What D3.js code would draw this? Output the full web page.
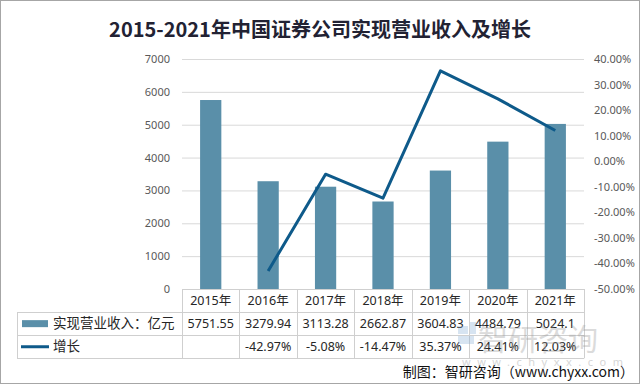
<!DOCTYPE html>
<html>
<head>
<meta charset="utf-8">
<script src="https://cdn.jsdelivr.net/npm/d3@7"></script>
<style>
  body { margin: 0; background: #fff; }
  svg { display: block; }
  text { font-family: "Noto Sans", "Noto Sans CJK SC", sans-serif; }
</style>
</head>
<body>
<div id="chart"></div>
<script>
// data
const years = ["2015年", "2016年", "2017年", "2018年", "2019年", "2020年", "2021年"];
const revenue = [5751.55, 3279.94, 3113.28, 2662.87, 3604.83, 4484.79, 5024.1];
const growth = [null, -42.97, -5.08, -14.47, 35.37, 24.41, 12.03];
const leftTicks = [0, 1000, 2000, 3000, 4000, 5000, 6000, 7000];
const rightTicks = [40, 30, 20, 10, 0, -10, -20, -30, -40, -50];

const W = 640, H = 384;
const plot = { left: 182, right: 584, top: 59, bottom: 289 };
const barColor = "#5a8fa9";
const lineColor = "#0e5a8a";
const gridColor = "#d9d9d9";
const tableColor = "#cfcfcf";

const svg = d3.select("#chart").append("svg")
  .attr("width", W).attr("height", H);

svg.append("rect")
  .attr("x", 0.5).attr("y", 0.5).attr("width", W - 1).attr("height", H - 1)
  .attr("fill", "#fff").attr("stroke", "#a6a6a6");

// title
svg.append("text")
  .attr("x", 320).attr("y", 37)
  .attr("text-anchor", "middle")
  .attr("font-size", 20).attr("font-weight", "bold")
  .attr("fill", "#222233")
  .style("font-family", "'Noto Sans CJK SC', sans-serif")
  .text("2015-2021年中国证券公司实现营业收入及增长");

const x = d3.scaleBand().domain(years).range([plot.left, plot.right]).paddingInner(0).paddingOuter(0);
const y = d3.scaleLinear().domain([0, 7000]).range([plot.bottom, plot.top]);
const y2 = d3.scaleLinear().domain([-50, 40]).range([plot.bottom, plot.top]);

// grid
svg.append("g").selectAll("line")
  .data(leftTicks.filter(d => d > 0))
  .join("line")
  .attr("x1", plot.left).attr("x2", plot.right)
  .attr("y1", d => y(d) + 0.5).attr("y2", d => y(d) + 0.5)
  .attr("stroke", gridColor);

// left axis
const leftAxis = svg.append("g")
  .attr("transform", `translate(${plot.left},0)`)
  .call(d3.axisLeft(y).tickValues(leftTicks).tickSize(0).tickPadding(12).tickFormat(d3.format("d")));
leftAxis.select(".domain").remove();
leftAxis.selectAll("text").attr("font-size", 11).attr("fill", "#595959")
  .style("font-family", "'Noto Sans', sans-serif");

// right axis
const rightAxis = svg.append("g")
  .attr("transform", `translate(${plot.right},0)`)
  .call(d3.axisRight(y2).tickValues(rightTicks).tickSize(0).tickPadding(10)
    .tickFormat(d => d.toFixed(2) + "%"));
rightAxis.select(".domain").remove();
rightAxis.selectAll("text").attr("font-size", 11).attr("fill", "#595959")
  .style("font-family", "'Noto Sans', sans-serif");

// bars
const bw = x.bandwidth() * 0.37;
svg.append("g").selectAll("rect")
  .data(revenue)
  .join("rect")
  .attr("x", (d, i) => x(years[i]) + (x.bandwidth() - bw) / 2)
  .attr("width", bw)
  .attr("y", d => y(d))
  .attr("height", d => y(0) - y(d))
  .attr("fill", barColor);

// growth line
const pts = growth.map((g, i) => ({ year: years[i], g })).filter(d => d.g !== null);
svg.append("path")
  .datum(pts)
  .attr("fill", "none")
  .attr("stroke", lineColor)
  .attr("stroke-width", 3)
  .attr("stroke-linejoin", "round")
  .attr("d", d3.line()
    .x(d => x(d.year) + x.bandwidth() / 2)
    .y(d => y2(d.g)));

// data table
const rowTop = 289, rowH = 23.1;
const tableLeft = 17;
const t = svg.append("g");
// horizontal lines
t.append("line").attr("x1", plot.left).attr("x2", plot.right)
  .attr("y1", rowTop + 0.5).attr("y2", rowTop + 0.5).attr("stroke", tableColor);
[1, 2, 3].forEach(r => {
  t.append("line").attr("x1", tableLeft).attr("x2", plot.right)
    .attr("y1", Math.round(rowTop + r * rowH) + 0.5).attr("y2", Math.round(rowTop + r * rowH) + 0.5)
    .attr("stroke", tableColor);
});
// vertical lines
t.append("line").attr("x1", tableLeft + 0.5).attr("x2", tableLeft + 0.5)
  .attr("y1", rowTop + rowH).attr("y2", rowTop + 3 * rowH).attr("stroke", tableColor);
years.concat(["end"]).forEach((yr, i) => {
  const xx = i < years.length ? x(yr) : plot.right;
  t.append("line").attr("x1", Math.round(xx) + 0.5).attr("x2", Math.round(xx) + 0.5)
    .attr("y1", rowTop).attr("y2", rowTop + 3 * rowH).attr("stroke", tableColor);
});

const cell = (txt, cx, cy) => t.append("text")
  .attr("x", cx).attr("y", cy).attr("dy", "0.35em")
  .attr("text-anchor", "middle").attr("font-size", 12.5).attr("fill", "#262626")
  .text(txt);

years.forEach((yr, i) => {
  const cx = x(yr) + x.bandwidth() / 2;
  cell(yr, cx, rowTop + rowH * 0.5);
  cell(String(revenue[i]), cx, rowTop + rowH * 1.5);
  if (growth[i] !== null) cell(growth[i].toFixed(2) + "%", cx, rowTop + rowH * 2.5);
});

// legend keys in table
t.append("rect").attr("x", 22).attr("y", rowTop + rowH * 1.5 - 3.5)
  .attr("width", 26).attr("height", 7).attr("fill", barColor);
t.append("text").attr("x", 53).attr("y", rowTop + rowH * 1.5).attr("dy", "0.35em")
  .attr("font-size", 13.5).attr("fill", "#262626")
  .style("font-family", "'Noto Sans CJK SC', sans-serif")
  .text("实现营业收入：亿元");
t.append("line").attr("x1", 21).attr("x2", 49)
  .attr("y1", rowTop + rowH * 2.5).attr("y2", rowTop + rowH * 2.5)
  .attr("stroke", lineColor).attr("stroke-width", 3);
t.append("text").attr("x", 53).attr("y", rowTop + rowH * 2.5).attr("dy", "0.35em")
  .attr("font-size", 13.5).attr("fill", "#262626")
  .style("font-family", "'Noto Sans CJK SC', sans-serif")
  .text("增长");

// watermark
const wm = svg.append("g").attr("opacity", 0.35);
wm.append("rect").attr("x", 458).attr("y", 326).attr("width", 10).attr("height", 8).attr("fill", "#8fb3d9");
wm.append("rect").attr("x", 458).attr("y", 336).attr("width", 16).attr("height", 8).attr("fill", "#8fb3d9");
wm.append("rect").attr("x", 470).attr("y", 322).attr("width", 6).attr("height", 12).attr("fill", "#8fb3d9");
wm.append("text").attr("x", 478).attr("y", 350)
  .attr("font-size", 30).attr("fill", "#9a9a9a")
  .style("font-family", "'Noto Sans CJK SC', sans-serif")
  .text("智研咨询");
wm.append("text").attr("x", 462).attr("y", 366)
  .attr("font-size", 11).attr("fill", "#8a8a8a").attr("letter-spacing", 6.5)
  .text("www.chyxx.com");

// source
svg.append("text").attr("x", 634).attr("y", 377)
  .attr("text-anchor", "end").attr("font-size", 14).attr("fill", "#111")
  .style("font-family", "'Noto Sans CJK SC', sans-serif")
  .text("制图：智研咨询（www.chyxx.com）");
</script>
</body>
</html>
